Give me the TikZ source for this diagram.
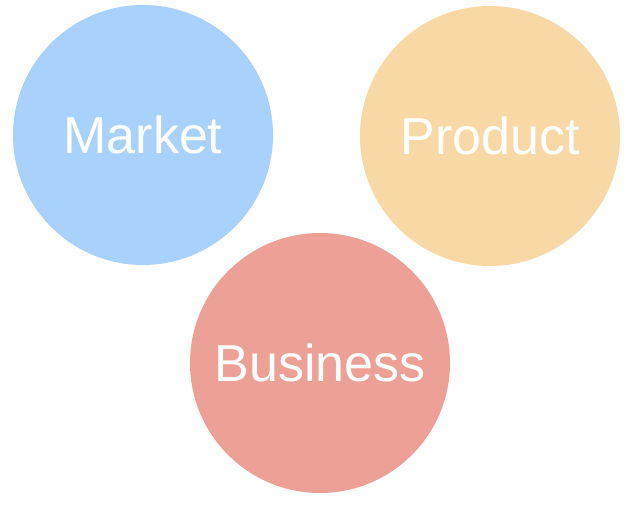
\documentclass[tikz,border=0pt]{standalone}
\usepackage{fontspec}
\setmainfont{Liberation Sans}
\definecolor{mktblue}{HTML}{A8D1FB}
\definecolor{prodorange}{HTML}{F8D9A6}
\definecolor{busred}{HTML}{EDA096}
\tikzset{
  bubble/.style={circle, minimum size=260pt, inner sep=0pt, text=white,
    font=\fontsize{52}{60}\selectfont}
}
\begin{document}
\begin{tikzpicture}[x=1pt,y=-1pt]
\useasboundingbox (0,0) rectangle (632,504);
\node[bubble, fill=mktblue] (market) at (143,135) {Market};
\node[bubble, fill=prodorange] (product) at (490,136) {Product};
\node[bubble, fill=busred] (business) at (320,363) {Business};
\end{tikzpicture}
\end{document}
